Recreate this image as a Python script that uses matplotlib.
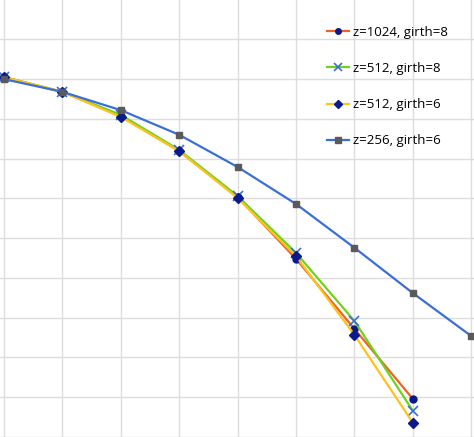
import matplotlib
matplotlib.use("Agg")
import matplotlib.pyplot as plt

# x positions (one per vertical grid line), y values read in grid units
steps = [0, 1, 2, 3, 4, 5, 6, 7, 8]
z1024_g8 = [9.05, 8.68, 8.08, 7.19, 6.04, 4.48, 2.72, 0.96]
z512_g8 = [9.05, 8.68, 8.10, 7.22, 6.06, 4.63, 2.92, 0.66]
z512_g6 = [9.05, 8.68, 8.05, 7.19, 6.01, 4.55, 2.57, 0.36]
z256_g6 = [9.00, 8.68, 8.22, 7.60, 6.79, 5.86, 4.76, 3.62, 2.54]
labels = ["z=1024, girth=8", "z=512, girth=8", "z=512, girth=6", "z=256, girth=6"]

fig = plt.figure(figsize=(4.74, 4.37), dpi=100)
ax = fig.add_axes([0, 0, 1, 1])

ax.plot(steps[:8], z1024_g8, color="#F0602A", lw=1.6, marker="o", ms=5,
        mfc="#0A1A8C", mec="#0A1A8C", label=labels[0])
ax.plot(steps[:8], z512_g8, color="#6FD21E", lw=1.6, marker="x", ms=7, mew=1.2,
        mec="#3A6FD8", label=labels[1])
ax.plot(steps[:8], z512_g6, color="#FFC21A", lw=1.6, marker="D", ms=5,
        mfc="#0A1A8C", mec="#0A1A8C", label=labels[2])
ax.plot(steps, z256_g6, color="#3A6FD8", lw=1.6, marker="s", ms=5,
        mfc="#5A5A5A", mec="#5A5A5A", label=labels[3])

ax.set_xlim(-0.0685, 8.048)
ax.set_ylim(0.0, 10.99)
ax.set_xticks(range(0, 9))
ax.set_yticks(range(0, 11))
ax.grid(True, color="#DDDDDD", lw=1.0)
ax.tick_params(length=0, labelbottom=False, labelleft=False)
for s in ax.spines.values():
    s.set_visible(False)
ax.set_axisbelow(True)

leg = ax.legend(loc="upper left", bbox_to_anchor=(327 / 474, 1 - 26 / 437),
                frameon=False, labelspacing=1.75, markerscale=0.8,
                handlelength=1.7, handletextpad=0.25, borderpad=0,
                borderaxespad=0, prop={"family": "Open Sans", "size": 9.5})

fig.savefig("out.png", dpi=100)
